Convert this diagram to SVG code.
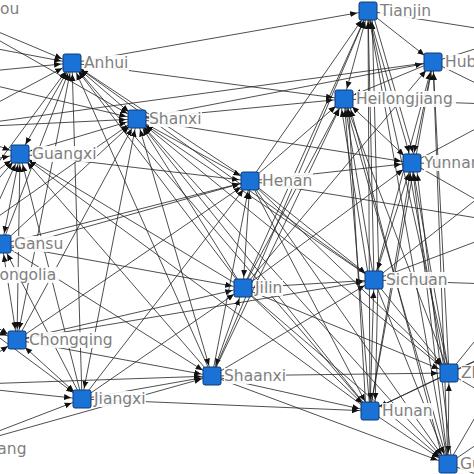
<svg xmlns="http://www.w3.org/2000/svg" width="474" height="474" viewBox="0 0 474 474">
<style>
.e{stroke:#222;stroke-width:0.8;fill:none;marker-end:url(#ah)}
.b{marker-start:url(#ah)}
.n{fill:#1b72d6;stroke:#0c3a78;stroke-width:1}
.lb{fill:#fff;fill-opacity:0.9}
.t{font-family:"DejaVu Sans",sans-serif;font-size:15.5px;fill:#7f7f7f}
</style>
<defs>
<marker id="ah" markerUnits="userSpaceOnUse" markerWidth="20" markerHeight="8" viewBox="0 0 20 8" refX="18" refY="4" orient="auto-start-reverse"><path d="M0,1 L7,4 L0,7z" fill="#111"/></marker>
</defs>
<rect width="474" height="474" fill="#fff"/>
<g id="connectors">
<!-- Anhui -->
<line class="e" x1="-56" y1="9" x2="72" y2="63"/>
<line class="e" x1="-50" y1="40" x2="72" y2="63"/>
<line class="e" x1="-50" y1="75" x2="72" y2="63"/>
<line class="e" x1="-50" y1="128" x2="72" y2="63"/>
<line class="e" x1="72" y1="63" x2="368" y2="11"/>
<line class="e" x1="72" y1="63" x2="344" y2="99"/>
<line class="e b" x1="137" y1="119" x2="72" y2="63"/>
<line class="e b" x1="20" y1="154" x2="72" y2="63"/>
<line class="e" x1="2" y1="244" x2="72" y2="63"/>
<line class="e" x1="-85" y1="275" x2="72" y2="63"/>
<line class="e b" x1="17" y1="340" x2="72" y2="63"/>
<line class="e" x1="82" y1="399" x2="72" y2="63"/>
<line class="e" x1="212" y1="376" x2="72" y2="63"/>
<line class="e" x1="243" y1="288" x2="72" y2="63"/>
<line class="e" x1="250" y1="181" x2="72" y2="63"/>
<line class="e" x1="370" y1="411" x2="72" y2="63"/>
<line class="e" x1="374" y1="280" x2="72" y2="63"/>
<!-- Shanxi -->
<line class="e" x1="-56" y1="9" x2="137" y2="119"/>
<line class="e" x1="-50" y1="75" x2="137" y2="119"/>
<line class="e" x1="-50" y1="128" x2="137" y2="119"/>
<line class="e" x1="137" y1="119" x2="433" y2="62"/>
<line class="e" x1="137" y1="119" x2="344" y2="99"/>
<line class="e" x1="137" y1="119" x2="412" y2="163"/>
<line class="e" x1="137" y1="119" x2="250" y2="181"/>
<line class="e b" x1="20" y1="154" x2="137" y2="119"/>
<line class="e" x1="2" y1="244" x2="137" y2="119"/>
<line class="e" x1="-85" y1="275" x2="137" y2="119"/>
<line class="e" x1="17" y1="340" x2="137" y2="119"/>
<line class="e b" x1="82" y1="399" x2="137" y2="119"/>
<line class="e b" x1="212" y1="376" x2="137" y2="119"/>
<line class="e" x1="243" y1="288" x2="137" y2="119"/>
<line class="e" x1="374" y1="280" x2="137" y2="119"/>
<line class="e" x1="370" y1="411" x2="137" y2="119"/>
<line class="e" x1="449" y1="373" x2="137" y2="119"/>
<line class="e" x1="448" y1="464" x2="137" y2="119"/>
<!-- Guangxi -->
<line class="e" x1="-50" y1="128" x2="20" y2="154"/>
<line class="e" x1="-50" y1="168" x2="20" y2="154"/>
<line class="e" x1="-50" y1="205" x2="20" y2="154"/>
<line class="e" x1="20" y1="154" x2="250" y2="181"/>
<line class="e b" x1="2" y1="244" x2="20" y2="154"/>
<line class="e" x1="-85" y1="275" x2="20" y2="154"/>
<line class="e b" x1="17" y1="340" x2="20" y2="154"/>
<line class="e" x1="82" y1="399" x2="20" y2="154"/>
<line class="e" x1="212" y1="376" x2="20" y2="154"/>
<line class="e" x1="243" y1="288" x2="20" y2="154"/>
<line class="e" x1="370" y1="411" x2="20" y2="154"/>
<line class="e" x1="-50" y1="310" x2="20" y2="154"/>
<!-- Gansu -->
<line class="e" x1="-50" y1="205" x2="2" y2="244"/>
<line class="e" x1="-50" y1="310" x2="2" y2="244"/>
<line class="e" x1="-85" y1="275" x2="2" y2="244"/>
<line class="e" x1="2" y1="244" x2="243" y2="288"/>
<line class="e" x1="2" y1="244" x2="212" y2="376"/>
<line class="e" x1="2" y1="244" x2="250" y2="181"/>
<line class="e b" x1="17" y1="340" x2="2" y2="244"/>
<line class="e" x1="82" y1="399" x2="2" y2="244"/>
<!-- Inner Mongolia -->
<line class="e" x1="-85" y1="275" x2="17" y2="340"/>
<line class="e" x1="-85" y1="275" x2="82" y2="399"/>
<line class="e" x1="-85" y1="275" x2="250" y2="181"/>
<!-- Chongqing -->
<line class="e" x1="-50" y1="310" x2="17" y2="340"/>
<line class="e" x1="-50" y1="385" x2="17" y2="340"/>
<line class="e" x1="17" y1="340" x2="212" y2="376"/>
<line class="e b" x1="17" y1="340" x2="82" y2="399"/>
<line class="e" x1="17" y1="340" x2="243" y2="288"/>
<line class="e" x1="17" y1="340" x2="250" y2="181"/>
<line class="e" x1="17" y1="340" x2="374" y2="280"/>
<!-- Jiangxi -->
<line class="e" x1="-50" y1="385" x2="82" y2="399"/>
<line class="e" x1="-48" y1="449" x2="82" y2="399"/>
<line class="e" x1="82" y1="399" x2="212" y2="376"/>
<line class="e" x1="82" y1="399" x2="370" y2="411"/>
<line class="e" x1="82" y1="399" x2="243" y2="288"/>
<line class="e" x1="82" y1="399" x2="250" y2="181"/>
<!-- Shaanxi -->
<line class="e" x1="-50" y1="385" x2="212" y2="376"/>
<line class="e" x1="-48" y1="449" x2="212" y2="376"/>
<line class="e" x1="212" y1="376" x2="250" y2="181"/>
<line class="e b" x1="212" y1="376" x2="243" y2="288"/>
<line class="e" x1="212" y1="376" x2="374" y2="280"/>
<line class="e" x1="212" y1="376" x2="370" y2="411"/>
<line class="e" x1="212" y1="376" x2="449" y2="373"/>
<line class="e" x1="212" y1="376" x2="448" y2="464"/>
<line class="e" x1="212" y1="376" x2="344" y2="99"/>
<line class="e" x1="212" y1="376" x2="368" y2="11"/>
<!-- Henan -->
<line class="e" x1="250" y1="181" x2="412" y2="163"/>
<line class="e" x1="250" y1="181" x2="344" y2="99"/>
<line class="e" x1="250" y1="181" x2="368" y2="11"/>
<line class="e b" x1="250" y1="181" x2="243" y2="288"/>
<line class="e" x1="250" y1="181" x2="374" y2="280"/>
<line class="e" x1="250" y1="181" x2="370" y2="411"/>
<line class="e" x1="250" y1="181" x2="449" y2="373"/>
<line class="e" x1="250" y1="181" x2="448" y2="464"/>
<line class="e" x1="250" y1="181" x2="520" y2="225"/>
<!-- Jilin -->
<line class="e" x1="243" y1="288" x2="374" y2="280"/>
<line class="e" x1="243" y1="288" x2="449" y2="373"/>
<line class="e" x1="243" y1="288" x2="370" y2="411"/>
<line class="e" x1="243" y1="288" x2="448" y2="464"/>
<line class="e" x1="243" y1="288" x2="368" y2="11"/>
<line class="e" x1="243" y1="288" x2="344" y2="99"/>
<line class="e" x1="243" y1="288" x2="412" y2="163"/>
<line class="e" x1="243" y1="288" x2="433" y2="62"/>
<!-- Sichuan -->
<line class="e" x1="374" y1="280" x2="368" y2="11"/>
<line class="e" x1="379" y1="280" x2="372" y2="11"/>
<line class="e" x1="374" y1="280" x2="344" y2="99"/>
<line class="e" x1="369" y1="280" x2="340" y2="99"/>
<line class="e b" x1="374" y1="280" x2="412" y2="163"/>
<line class="e" x1="374" y1="280" x2="433" y2="62"/>
<line class="e b" x1="374" y1="280" x2="370" y2="411"/>
<line class="e" x1="378" y1="280" x2="375" y2="411"/>
<line class="e" x1="374" y1="280" x2="449" y2="373"/>
<line class="e" x1="374" y1="280" x2="448" y2="464"/>
<line class="e" x1="374" y1="280" x2="520" y2="285"/>
<line class="e" x1="374" y1="280" x2="520" y2="225"/>
<line class="e" x1="374" y1="280" x2="520" y2="165"/>
<!-- Zhejiang -->
<line class="e" x1="449" y1="373" x2="368" y2="11"/>
<line class="e" x1="449" y1="373" x2="433" y2="62"/>
<line class="e" x1="449" y1="373" x2="344" y2="99"/>
<line class="e" x1="449" y1="373" x2="412" y2="163"/>
<line class="e" x1="445" y1="373" x2="408" y2="163"/>
<line class="e" x1="449" y1="373" x2="370" y2="411"/>
<line class="e b" x1="448" y1="464" x2="449" y2="373"/>
<line class="e" x1="449" y1="373" x2="520" y2="340"/>
<line class="e" x1="449" y1="373" x2="520" y2="285"/>
<line class="e" x1="449" y1="373" x2="520" y2="415"/>
<!-- Hunan -->
<line class="e" x1="370" y1="411" x2="368" y2="11"/>
<line class="e" x1="370" y1="411" x2="344" y2="99"/>
<line class="e" x1="366" y1="411" x2="348" y2="99"/>
<line class="e" x1="370" y1="411" x2="412" y2="163"/>
<line class="e" x1="370" y1="411" x2="433" y2="62"/>
<line class="e" x1="370" y1="411" x2="448" y2="464"/>
<line class="e" x1="370" y1="411" x2="520" y2="340"/>
<!-- Guangdong -->
<line class="e" x1="448" y1="464" x2="368" y2="11"/>
<line class="e" x1="448" y1="464" x2="433" y2="62"/>
<line class="e" x1="448" y1="464" x2="344" y2="99"/>
<line class="e" x1="444" y1="464" x2="348" y2="99"/>
<line class="e" x1="448" y1="464" x2="412" y2="163"/>
<line class="e" x1="452" y1="464" x2="416" y2="163"/>
<line class="e" x1="448" y1="464" x2="520" y2="415"/>
<line class="e" x1="448" y1="464" x2="520" y2="340"/>
<line class="e" x1="448" y1="464" x2="520" y2="490"/>
<!-- upper right -->
<line class="e b" x1="368" y1="11" x2="344" y2="99"/>
<line class="e" x1="368" y1="11" x2="433" y2="62"/>
<line class="e" x1="368" y1="11" x2="412" y2="163"/>
<line class="e" x1="372" y1="11" x2="416" y2="163"/>
<line class="e" x1="368" y1="11" x2="520" y2="35"/>
<line class="e" x1="433" y1="62" x2="344" y2="99"/>
<line class="e" x1="433" y1="62" x2="412" y2="163"/>
<line class="e" x1="433" y1="62" x2="-50" y2="128"/>
<line class="e" x1="433" y1="62" x2="520" y2="35"/>
<line class="e" x1="433" y1="62" x2="520" y2="105"/>
<line class="e b" x1="344" y1="99" x2="412" y2="163"/>
<line class="e" x1="344" y1="99" x2="520" y2="105"/>
<line class="e" x1="412" y1="163" x2="520" y2="165"/>
<line class="e" x1="412" y1="163" x2="520" y2="105"/>
<line class="e" x1="412" y1="163" x2="520" y2="225"/>
</g>
<g id="n-tianjin"><rect class="n" x="359" y="2" width="18" height="18" rx="2"/><rect class="lb" x="380" y="3" width="52" height="16"/><text class="t" x="380" y="16">Tianjin</text></g>
<g id="n-hubei"><rect class="n" x="424" y="53" width="18" height="18" rx="2"/><rect class="lb" x="445" y="54" width="46" height="16"/><text class="t" x="445" y="67">Hubei</text></g>
<g id="n-heilongjiang"><rect class="n" x="335" y="90" width="18" height="18" rx="2"/><rect class="lb" x="356" y="91" width="100" height="16"/><text class="t" x="356" y="104">Heilongjiang</text></g>
<g id="n-yunnan"><rect class="n" x="403" y="154" width="18" height="18" rx="2"/><rect class="lb" x="424" y="155" width="59" height="16"/><text class="t" x="424" y="168">Yunnan</text></g>
<g id="n-henan"><rect class="n" x="241" y="172" width="18" height="18" rx="2"/><rect class="lb" x="262" y="173" width="51" height="16"/><text class="t" x="262" y="186">Henan</text></g>
<g id="n-anhui"><rect class="n" x="63" y="54" width="18" height="18" rx="2"/><rect class="lb" x="84" y="55" width="45" height="16"/><text class="t" x="84" y="68">Anhui</text></g>
<g id="n-shanxi"><rect class="n" x="128" y="110" width="18" height="18" rx="2"/><rect class="lb" x="149" y="111" width="53" height="16"/><text class="t" x="149" y="124">Shanxi</text></g>
<g id="n-guangxi"><rect class="n" x="11" y="145" width="18" height="18" rx="2"/><rect class="lb" x="32" y="146" width="65" height="16"/><text class="t" x="32" y="159">Guangxi</text></g>
<g id="n-gansu"><rect class="n" x="-7" y="235" width="18" height="18" rx="2"/><rect class="lb" x="14" y="236" width="50" height="16"/><text class="t" x="14" y="249">Gansu</text></g>
<g id="n-innermongolia"><rect class="n" x="-80" y="266" width="18" height="18" rx="2"/><rect class="lb" x="-59" y="267" width="118" height="16"/><text class="t" x="-59" y="280">Inner Mongolia</text></g>
<g id="n-chongqing"><rect class="n" x="8" y="331" width="18" height="18" rx="2"/><rect class="lb" x="29" y="332" width="84" height="16"/><text class="t" x="29" y="345">Chongqing</text></g>
<g id="n-jiangxi"><rect class="n" x="73" y="390" width="18" height="18" rx="2"/><rect class="lb" x="94" y="391" width="52" height="16"/><text class="t" x="94" y="404">Jiangxi</text></g>
<g id="n-shaanxi"><rect class="n" x="203" y="367" width="18" height="18" rx="2"/><rect class="lb" x="224" y="368" width="62" height="16"/><text class="t" x="224" y="381">Shaanxi</text></g>
<g id="n-jilin"><rect class="n" x="234" y="279" width="18" height="18" rx="2"/><rect class="lb" x="255" y="280" width="28" height="16"/><text class="t" x="255" y="293">Jilin</text></g>
<g id="n-sichuan"><rect class="n" x="365" y="271" width="18" height="18" rx="2"/><rect class="lb" x="386" y="272" width="62" height="16"/><text class="t" x="386" y="285">Sichuan</text></g>
<g id="n-zhejiang"><rect class="n" x="440" y="364" width="18" height="18" rx="2"/><rect class="lb" x="461" y="365" width="68" height="16"/><text class="t" x="461" y="378">Zhejiang</text></g>
<g id="n-hunan"><rect class="n" x="361" y="402" width="18" height="18" rx="2"/><rect class="lb" x="382" y="403" width="51" height="16"/><text class="t" x="382" y="416">Hunan</text></g>
<g id="n-guangdong"><rect class="n" x="439" y="455" width="18" height="18" rx="2"/><rect class="lb" x="460" y="456" width="90" height="16"/><text class="t" x="460" y="469">Guangdong</text></g>
<g id="n-guizhou"><rect class="n" x="-65" y="0" width="18" height="18" rx="2"/><rect class="lb" x="-44" y="1" width="64" height="16"/><text class="t" x="-44" y="14">Guizhou</text></g>
<g id="n-xinjiang"><rect class="n" x="-57" y="440" width="18" height="18" rx="2"/><rect class="lb" x="-36" y="441" width="63" height="16"/><text class="t" x="-36" y="454">Xinjiang</text></g>
</svg>
